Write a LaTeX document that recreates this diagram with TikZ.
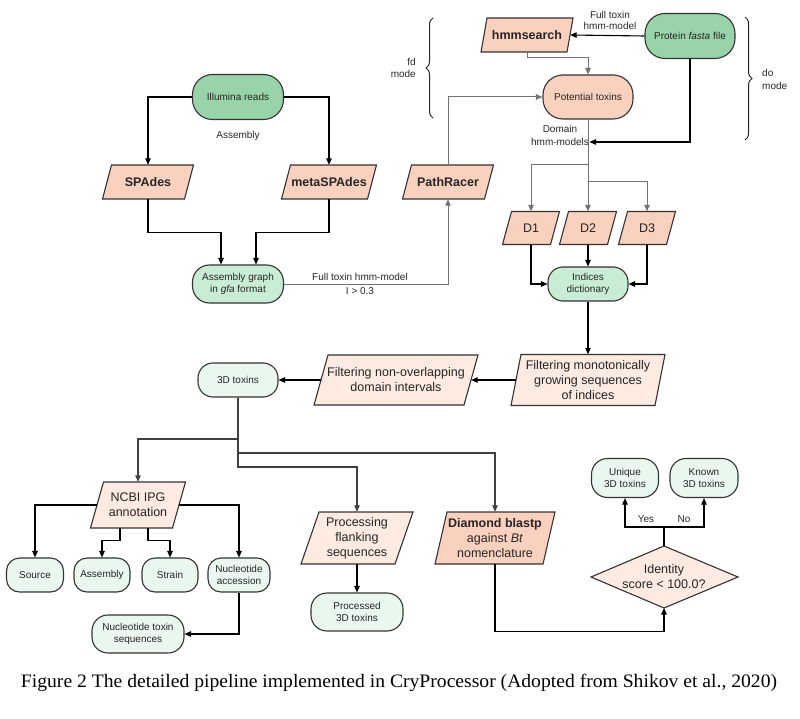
\documentclass[tikz,border=0pt]{standalone}
\usepackage{fontspec}
\setmainfont{Liberation Sans}
\newfontfamily\capfont{Liberation Serif}
\usetikzlibrary{arrows.meta,shapes.geometric,decorations.pathreplacing,calc}
\definecolor{dgreen}{HTML}{98D3A9}
\definecolor{mgreen}{HTML}{C8EDD4}
\definecolor{lgreen}{HTML}{EAF7EE}
\definecolor{salmon}{HTML}{FAD0BE}
\definecolor{lpeach}{HTML}{FDEAE1}
\definecolor{edgec}{HTML}{333333}
\newcommand\smallf{\fontsize{10}{12}\selectfont}
\newcommand\bigf{\fontsize{12.5}{15}\selectfont}
\newcommand\para[8]{%
 \path[base,#7] ({#2-#4-#6},{#3+#5}) -- ({#2+#4-#6},{#3+#5}) -- ({#2+#4+#6},{#3-#5}) -- ({#2-#4+#6},{#3-#5}) -- cycle;
 \node[inner sep=0pt, minimum width={2*#4}, minimum height={2*#5}, align=center, text=black!85, #8] (#1) at (#2,#3)}
\tikzset{
 base/.style={draw=edgec, line width=1.1pt},
 stad/.style={base, rectangle, rounded corners=#1, align=center, inner sep=0pt, text=black!85, font=\smallf},
 stad/.default=14pt,
 conn/.style={draw=black, line width=1.1pt, -{Triangle[length=6.5pt,width=5.5pt]}},
 gconn/.style={draw=black!55, line width=1pt, -{Triangle[length=6.5pt,width=5.5pt]}},
 lbl/.style={font=\smallf, text=black!85, align=center, inner sep=0pt},
 bracestyle/.style={draw=black!85, line width=1pt, decorate},
 bigtext/.style={font=\bigf},
 boldtext/.style={font=\bigf\bfseries}
}
\begin{document}
\begin{tikzpicture}[x=1pt,y=-1pt]
\useasboundingbox (0,0) rectangle (800,719);

% terminal (stadium) nodes
\node[stad=20pt, fill=dgreen, minimum width=91, minimum height=45] (illum) at (238,97) {Illumina reads};
\node[stad=20pt, fill=dgreen, minimum width=90, minimum height=45] (protein) at (690,36) {Protein \textit{fasta} file};
\node[stad=20pt, fill=salmon, minimum width=90, minimum height=44] (potential) at (588,97) {Potential toxins};
\node[stad=17pt, fill=mgreen, minimum width=91, minimum height=38] (asmgraph) at (238,284) {Assembly graph\\in \textit{gfa} format};
\node[stad=15pt, fill=mgreen, minimum width=80, minimum height=34] (indices) at (588,284) {Indices\\dictionary};
\node[stad=15pt, fill=lgreen, minimum width=80, minimum height=34] (tox3d) at (238,380) {3D toxins};
\node[stad=13pt, fill=lgreen, minimum width=57, minimum height=34] (source) at (35,575) {Source};
\node[stad=13pt, fill=lgreen, minimum width=56, minimum height=34] (assembly) at (102,575) {Assembly};
\node[stad=13pt, fill=lgreen, minimum width=56, minimum height=34] (strain) at (170,575) {Strain};
\node[stad=13pt, fill=lgreen, minimum width=62, minimum height=34] (nucacc) at (239,575) {Nucleotide\\accession};
\node[stad=16pt, fill=lgreen, minimum width=92, minimum height=38] (nuctox) at (138,634) {Nucleotide toxin\\sequences};
\node[stad=16pt, fill=lgreen, minimum width=92, minimum height=38] (processed) at (357,612) {Processed\\3D toxins};
\node[stad=16pt, fill=lgreen, minimum width=67, minimum height=39] (unique) at (625,478) {Unique\\3D toxins};
\node[stad=16pt, fill=lgreen, minimum width=68, minimum height=39] (known) at (704,478) {Known\\3D toxins};

% parallelograms
\para{spades}{148}{182}{41}{17}{4.5}{fill=salmon}{boldtext} {SPAdes};
\para{metaspades}{329}{182}{43}{17}{4.5}{fill=salmon}{boldtext} {metaSPAdes};
\para{pathracer}{448}{182}{41}{17}{4.5}{fill=salmon}{boldtext} {PathRacer};
\para{hmmsearch}{527}{35}{43}{17}{3}{fill=salmon}{boldtext} {hmmsearch};
\para{d1}{531}{228}{24}{16.5}{4.5}{fill=salmon}{bigtext} {D1};
\para{d2}{588}{228}{24}{16.5}{4.5}{fill=salmon}{bigtext} {D2};
\para{d3}{647}{228}{24}{16.5}{4.5}{fill=salmon}{bigtext} {D3};
\para{filtmono}{588}{380}{72}{25.5}{5}{fill=lpeach}{bigtext} {Filtering monotonically\\growing sequences\\of indices};
\para{filtnon}{396}{380}{75}{25}{7}{fill=lpeach}{bigtext} {Filtering non-overlapping\\domain intervals};
\para{ncbi}{138}{505}{41}{23}{6.5}{fill=lpeach}{bigtext} {NCBI IPG\\annotation};
\para{processing}{357}{538}{47}{26}{9}{fill=lpeach}{bigtext} {Processing\\flanking\\sequences};
\para{diamond}{495}{538}{54}{26}{6}{fill=salmon}{bigtext} {\textbf{Diamond blastp}\\against \textit{Bt}\\nomenclature};

% identity decision
\path[base, fill=lpeach] (591,577) -- (664,546) -- (738,577) -- (664,608) -- cycle;
\node[lbl, font=\bigf] (identity) at (664,577) {Identity\\score < 100.0?};
\coordinate (identtop) at (664,546);
\coordinate (identbot) at (664,608);

% labels
\node[lbl] (asmlbl) at (238,136) {Assembly};
\node[lbl] (fulllbl) at (360,277) {Full toxin hmm-model};
\node[lbl] (ilbl) at (360,291) {I > 0.3};
\node[lbl, font=\fontsize{10}{11}\selectfont] (fulltop) at (610,20) {Full toxin\\hmm-model};
\node[lbl, font=\fontsize{10}{13}\selectfont] (domlbl) at (560,135) {Domain\\hmm-models};
\node[lbl, align=right, anchor=east, font=\fontsize{10}{12}\selectfont] (fdlbl) at (416,68) {fd\\mode};
\node[lbl, align=left, anchor=west, font=\fontsize{10}{13}\selectfont] (dolbl) at (762,79) {do\\mode};
\node[lbl] (yeslbl) at (646,519) {Yes};
\node[lbl] (nolbl) at (684,519) {No};

% braces
\draw[bracestyle, decoration={brace, amplitude=7pt}] (433,118) -- (433,18);
\draw[bracestyle, decoration={brace, amplitude=7pt}] (745,17) -- (745,140);

% connectors
\draw[conn] (illum.west) -| (spades.north);
\draw[conn] (illum.east) -| (metaspades.north);
\draw[conn] (spades.south) -- ++(0,33) -| ($(asmgraph.north)+(-17,0)$);
\draw[conn] (metaspades.south) -- ++(0,33) -| ($(asmgraph.north)+(18,0)$);
\draw[gconn] (asmgraph.east) -| (pathracer.south);
\draw[gconn] (pathracer.north) |- (potential.west);
\draw[conn] (protein.west) -- (hmmsearch.east);
\draw[gconn] (hmmsearch.south) -- ++(0,5) -| (potential.north);
\coordinate (domin) at (589.5,142);
\draw[conn] (protein.south) |- (domin);
\coordinate (s1) at (588,165);
\coordinate (s2) at (588,182);
\draw[gconn] (potential.south) -- (d2.north);
\draw[gconn] (s1) -| (d1.north);
\draw[gconn] (s2) -| (d3.north);
\draw[conn] (d1.south) |- (indices.west);
\draw[conn] (d3.south) |- (indices.east);
\draw[conn] (d2.south) -- (indices.north);
\draw[conn] (indices.south) -- (filtmono.north);
\draw[conn] (filtmono.west) -- (filtnon.east);
\draw[conn] (filtnon.west) -- (tox3d.east);
\coordinate (t1) at (238,439);
\coordinate (t2) at (238,453);
\draw[conn, draw=black!75] (tox3d.south) -- (238,467) -| (processing.north);
\draw[conn, draw=black!75] (t1) -| (ncbi.north);
\draw[conn, draw=black!75] (t2) -| (diamond.north);
\draw[conn] (ncbi.west) -| (source.north);
\draw[conn] (ncbi.east) -| (nucacc.north);
\draw[conn] ($(ncbi.south)+(-18,0)$) -- ++(0,12) -| (assembly.north);
\draw[conn] ($(ncbi.south)+(10,0)$) -- ++(0,12) -| (strain.north);
\draw[conn] (nucacc.south) |- (nuctox.east);
\draw[conn] (processing.south) -- (processed.north);
\draw[conn] (diamond.south) -- ++(0,67) -| (identbot);
\draw[conn] (identtop) -- ++(0,-19) -| (unique.south);
\draw[conn] (identtop) -- ++(0,-19) -| (known.south);

% caption
\node[inner sep=0pt] (caption) at (399,683) {\resizebox{756pt}{\height}{\capfont\fontsize{19}{22}\selectfont Figure 2 The detailed pipeline implemented in CryProcessor (Adopted from Shikov et al., 2020)}};
\end{tikzpicture}
\end{document}
